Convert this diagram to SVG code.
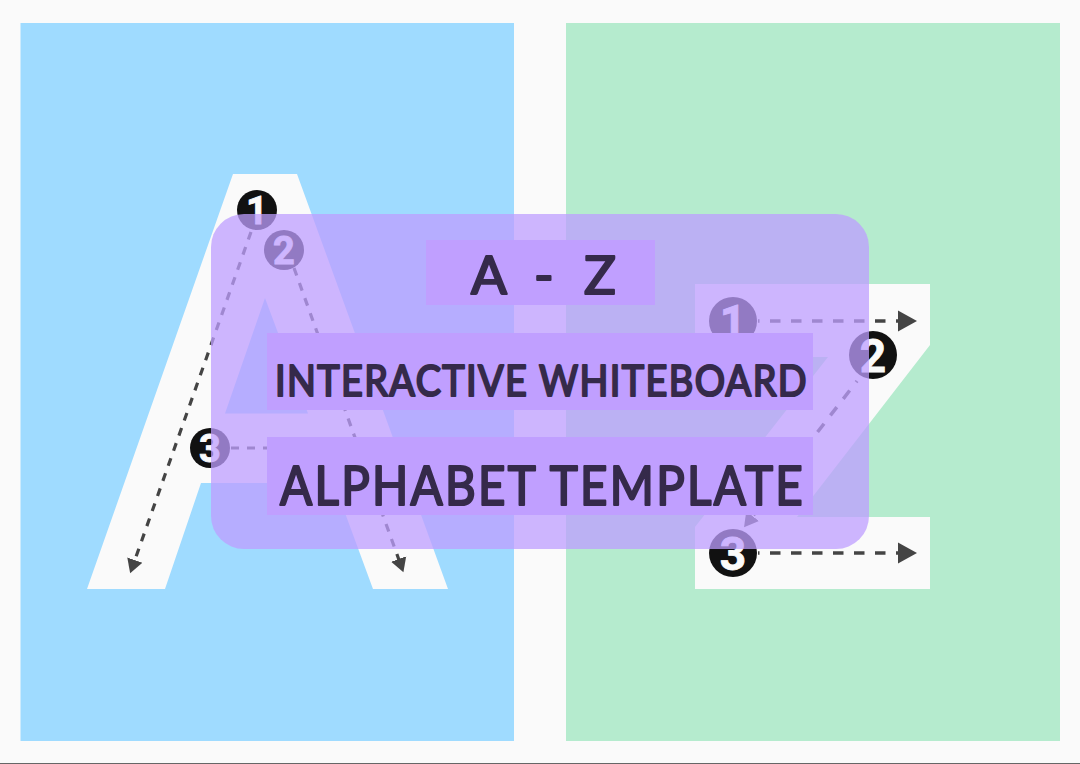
<svg xmlns="http://www.w3.org/2000/svg" width="1080" height="764" viewBox="0 0 1080 764">
<style>
.letter{fill:#fafafa}
.dot{fill:#111}
.num{fill:#fafafa;stroke:#fafafa;stroke-width:.8;font-family:"Roboto","DejaVu Sans",sans-serif;font-weight:700;text-anchor:middle}
.c1{fill:none;stroke:#444;stroke-width:3.2;stroke-dasharray:8 8}
.c2{fill:none;stroke:#444;stroke-width:3.5;stroke-dasharray:10.5 10.5;stroke-dashoffset:9}
.box{fill:#c09fff}
.t{fill:#352a4a;stroke:#352a4a;stroke-width:2.2;stroke-linejoin:round;stroke-linecap:round;font-family:"Lato","Open Sans",sans-serif}
</style>
<defs>
<marker id="ah1" markerUnits="userSpaceOnUse" markerWidth="30" markerHeight="30" refX="1" refY="15" orient="auto"><path d="M0,7 L14,15 L0,23Z" fill="#444"/></marker>
<marker id="ah2" markerUnits="userSpaceOnUse" markerWidth="30" markerHeight="30" refX="1" refY="15" orient="auto"><path d="M0,4.500 L19,15 L0,25.500Z" fill="#444"/></marker>
</defs>
<rect width="1080" height="764" fill="#fafafa"/>
<rect y="763" width="1080" height="1" fill="#666"/>
<rect id="panel-a" x="20.500" y="23" width="493.500" height="718" fill="#9fdbff"/>
<rect id="panel-z" x="566" y="23" width="494" height="718" fill="#b5ebce"/>
<g id="letter-a"><path class="letter" fill-rule="evenodd" d="M233,174 H297 L448,589 H373 L334,483 H201 L165,589 H87Z M265,298 L225,413.500 H308Z"/></g>
<g id="letter-z"><path class="letter" d="M695,284 H930 V345 L797,517 H930 V589 H695 V527 L828,357 H695Z"/></g>
<g id="connectors">
<path class="c1" d="M251,232 L134.500,561" marker-end="url(#ah1)"/>
<path class="c1" d="M294,268 L399,560" marker-end="url(#ah1)"/>
<path class="c1" d="M231,448 H300"/>
<path class="c2" d="M758,321 H899" marker-end="url(#ah2)"/>
<path class="c2" d="M857,381 L752,517" marker-end="url(#ah1)"/>
<path class="c2" d="M758,553 H899" marker-end="url(#ah2)"/>
</g>
<g id="a-1"><circle class="dot" cx="257" cy="210" r="20"/><text class="num" x="257" y="224" font-size="38">1</text></g>
<g id="a-2"><circle class="dot" cx="284" cy="250" r="20"/><text class="num" x="284" y="264" font-size="38">2</text></g>
<g id="a-3"><circle class="dot" cx="210" cy="448" r="20"/><text class="num" x="210" y="462" font-size="38">3</text></g>
<g id="z-1"><circle class="dot" cx="733" cy="321" r="24"/><text class="num" x="733" y="338" font-size="46">1</text></g>
<g id="z-2"><circle class="dot" cx="873" cy="355" r="24"/><text class="num" x="873" y="372" font-size="46">2</text></g>
<g id="z-3"><circle class="dot" cx="733" cy="553" r="24"/><text class="num" x="733" y="570" font-size="46">3</text></g>
<rect id="overlay" x="211" y="214" width="658" height="335" rx="33" fill="#be9eff" fill-opacity=".75"/>
<g id="title-range"><rect class="box" x="426" y="240" width="229" height="65"/><text class="t" x="471 520 534 570 584" y="294" font-size="53">A - Z</text></g>
<g id="title-main"><rect class="box" x="267" y="333" width="546" height="77"/><text class="t" transform="translate(275,396) scale(.88,1)" font-size="43" textLength="604" lengthAdjust="spacing">INTERACTIVE WHITEBOARD</text></g>
<g id="title-sub"><rect class="box" x="267" y="437" width="546" height="78"/><text class="t" transform="translate(280,505) scale(.88,1)" font-size="54" textLength="594" lengthAdjust="spacing">ALPHABET TEMPLATE</text></g>
</svg>
